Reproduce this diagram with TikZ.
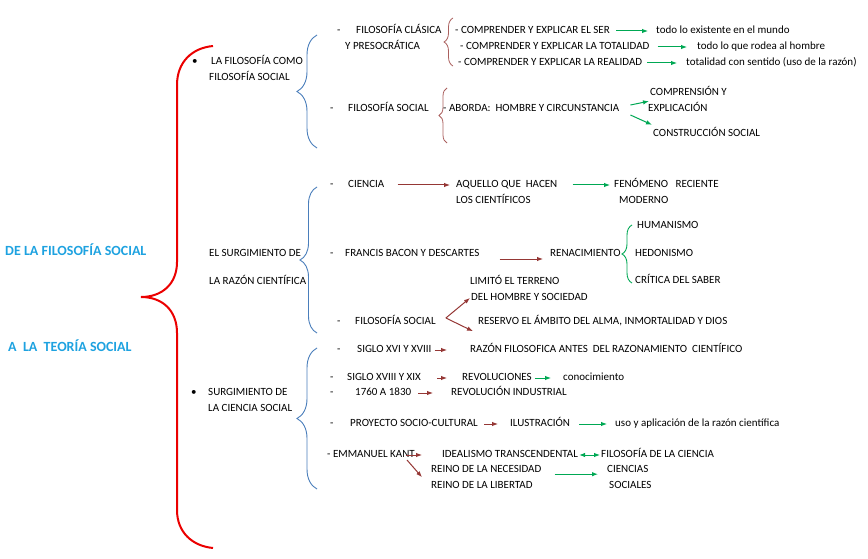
\documentclass[tikz,border=0pt]{standalone}
\usepackage{fontspec}
\setmainfont{Carlito}
\usetikzlibrary{arrows,arrows.meta,decorations.pathreplacing,calc}
\definecolor{titleblue}{RGB}{30,162,224}
\definecolor{braceblue}{RGB}{74,126,187}
\definecolor{bracered}{RGB}{235,0,0}
\definecolor{arrowbrown}{RGB}{149,55,53}
\definecolor{arrowgreen}{RGB}{0,168,84}
\tikzset{
    txt/.style = {anchor=west, inner sep=1pt, text height=7.5pt, text depth=2.5pt,
        font=\fontsize{11}{13}\selectfont},
    title/.style = {txt, text=titleblue, font=\fontsize{14}{16}\selectfont\bfseries},
    rarrow/.style = {draw=arrowbrown, line width=1pt, ->},
    garrow/.style = {draw=arrowgreen, line width=1pt, ->},
    redbrace/.style = {draw=bracered, line width=2pt},
    bluebrace/.style = {draw=braceblue, line width=0.9pt, decorate, decoration={brace, amplitude=#1}},
    brownbrace/.style = {draw=arrowbrown!80, line width=0.8pt, decorate, decoration={brace, amplitude=#1}},
    greenbrace/.style = {draw=arrowgreen, line width=0.9pt, decorate, decoration={brace, amplitude=#1}}
}
\begin{document}
\begin{tikzpicture}[x=1pt, y=-1pt, >={Latex[length=6pt,width=4.5pt]}]
        \useasboundingbox (0,0) rectangle (868,559);
        % main brace
        \draw [redbrace] (213,46) .. controls (192,48) and (177,62) .. (177,85) -- (177,262)
            .. controls (177,284) and (162,297) .. (141,297) .. controls (162,297) and (177,310) .. (177,333)
            -- (177,510) .. controls (177,532) and (192,546) .. (213,548);
        \node [title] (tita) at (4,253) {DE LA FILOSOFÍA SOCIAL};
        \node [title] (titb) at (7,349) {A\ \ LA\ \ TEORÍA SOCIAL};
        % la filosofia como filosofia social
        \node [txt] (bul1) at (191,62) {\textbullet};
        \node [txt] (lafil) at (210,62) {LA FILOSOFÍA COMO};
        \node [txt] (lafilb) at (208,78) {FILOSOFÍA SOCIAL};
        \draw [bluebrace=20] (317,148) -- (317,35);
        \node [txt] (dclas) at (336,31) {-};
        \node [txt] (clas) at (355,31) {FILOSOFÍA CLÁSICA};
        \node [txt] (clasb) at (344,47) {Y PRESOCRÁTICA};
        \draw [brownbrace=9] (453,66) -- (453,18);
        \node [txt] (ser) at (454,31) {- COMPRENDER Y EXPLICAR EL SER};
        \node [txt] (serres) at (655,31) {todo lo existente en el mundo};
        \node [txt] (tot) at (459,47) {- COMPRENDER Y EXPLICAR LA TOTALIDAD};
        \node [txt] (totres) at (696,47) {todo lo que rodea al hombre};
        \node [txt] (rea) at (457,63) {- COMPRENDER Y EXPLICAR LA REALIDAD};
        \node [txt] (reares) at (685,63) {totalidad con sentido (uso de la razón)};
        \node [txt] (dsoc) at (329,109) {-};
        \node [txt] (filsoc) at (347,109) {FILOSOFÍA SOCIAL};
        \draw [brownbrace=8] (447,143) -- (447,88);
        \node [txt] (aborda) at (442,109) {- ABORDA:\ \ HOMBRE Y CIRCUNSTANCIA};
        \node [txt] (comp) at (649,93) {COMPRENSIÓN Y};
        \node [txt] (compb) at (647,109) {EXPLICACIÓN};
        \node [txt] (constr) at (652,134) {CONSTRUCCIÓN SOCIAL};
        \draw [garrow, shorten <=5pt, shorten >=7pt] (ser) -- (serres);
        \draw [garrow, shorten <=7pt, shorten >=9pt] (tot) -- (totres);
        \draw [garrow, shorten <=4pt, shorten >=8pt] (rea) -- (reares);
        \draw [garrow] ([xshift=10pt,yshift=4pt]aborda.east) -- ([yshift=-2pt]comp.south west);
        \draw [garrow] ([xshift=10pt,yshift=-6pt]aborda.east) -- ([yshift=3pt]constr.north west);
        % el surgimiento de la razon cientifica
        \node [txt] (surg) at (208,254) {EL SURGIMIENTO DE};
        \node [txt] (surgb) at (208,282) {LA RAZÓN CIENTÍFICA};
        \draw [bluebrace=17] (317,333) -- (317,187);
        \node [txt] (dcien) at (329,185) {-};
        \node [txt] (cien) at (347,185) {CIENCIA};
        \node [txt] (aquello) at (455,185) {AQUELLO QUE\ \ HACEN};
        \node [txt] (aquellob) at (455,201) {LOS CIENTÍFICOS};
        \node [txt] (feno) at (613,185) {FENÓMENO\ \ \ RECIENTE};
        \node [txt] (fenob) at (618,201) {MODERNO};
        \node [txt] (dbacon) at (329,254) {-};
        \node [txt] (bacon) at (344,254) {FRANCIS BACON Y DESCARTES};
        \node [txt] (renac) at (549,254) {RENACIMIENTO};
        \draw [greenbrace=10] (632,283) -- (632,225);
        \node [txt] (hum) at (636,226) {HUMANISMO};
        \node [txt] (hed) at (634,254) {HEDONISMO};
        \node [txt] (crit) at (634,281) {CRÍTICA DEL SABER};
        \node [txt] (limito) at (469,282) {LIMITÓ EL TERRENO};
        \node [txt] (limitob) at (470,298) {DEL HOMBRE Y SOCIEDAD};
        \node [txt] (dfsoc) at (336,322) {-};
        \node [txt] (fsoc) at (354,322) {FILOSOFÍA SOCIAL};
        \node [txt] (reservo) at (477,322) {RESERVO EL ÁMBITO DEL ALMA, INMORTALIDAD Y DIOS};
        \draw [rarrow, shorten <=12pt, shorten >=5pt] (cien) -- (aquello);
        \draw [garrow, shorten <=14pt, shorten >=3pt] (aquello) -- (feno);
        \draw [rarrow, shorten <=19pt, shorten >=6pt] ([yshift=-5pt]bacon.east) -- ([yshift=-5pt]renac.west);
        \draw [rarrow] ([xshift=9pt,yshift=4pt]fsoc.east) -- (limitob.west);
        \draw [rarrow] ([xshift=9pt,yshift=4pt]fsoc.east) -- ([xshift=-4pt,yshift=-3pt]reservo.south west);
        % surgimiento de la ciencia social
        \node [txt] (bul3) at (190,393) {\textbullet};
        \node [txt] (surgc) at (207,393) {SURGIMIENTO DE};
        \node [txt] (surgcb) at (207,409) {LA CIENCIA SOCIAL};
        \draw [bluebrace=20] (317,489) -- (317,348);
        \node [txt] (ds16) at (336,350) {-};
        \node [txt] (s16) at (356,350) {SIGLO XVI Y XVIII};
        \node [txt] (razfil) at (469,350) {RAZÓN FILOSOFICA ANTES\ \ DEL RAZONAMIENTO\ \ CIENTÍFICO};
        \node [txt] (ds18) at (329,378) {-};
        \node [txt] (s18) at (346,378) {SIGLO XVIII Y XIX};
        \node [txt] (revs) at (461,378) {REVOLUCIONES};
        \node [txt] (conoc) at (562,378) {conocimiento};
        \node [txt] (dy1760) at (329,393) {-};
        \node [txt] (y1760) at (354,393) {1760 A 1830};
        \node [txt] (revind) at (450,393) {REVOLUCIÓN INDUSTRIAL};
        \node [txt] (dproy) at (329,424) {-};
        \node [txt] (proy) at (349,424) {PROYECTO SOCIO-CULTURAL};
        \node [txt] (ilus) at (509,424) {ILUSTRACIÓN};
        \node [txt] (uso) at (614,424) {uso y aplicación de la razón científica};
        \node [txt] (kant) at (326,455) {- EMMANUEL KANT};
        \node [txt] (ideal) at (441,455) {IDEALISMO TRANSCENDENTAL};
        \node [txt] (filcien) at (600,455) {FILOSOFÍA DE LA CIENCIA};
        \node [txt] (nec) at (430,470) {REINO DE LA NECESIDAD};
        \node [txt] (lib) at (430,486) {REINO DE LA LIBERTAD};
        \node [txt] (cienc) at (606,470) {CIENCIAS};
        \node [txt] (socs) at (608,486) {SOCIALES};
        \draw [rarrow, shorten <=2pt, shorten >=22pt] (s16) -- (razfil);
        \draw [rarrow, shorten <=15pt, shorten >=14pt] (s18) -- (revs);
        \draw [garrow, shorten <=2pt, shorten >=11pt] (revs) -- (conoc);
        \draw [rarrow, shorten <=6pt, shorten >=17pt] (y1760) -- (revind);
        \draw [rarrow, shorten <=5pt, shorten >=11pt] (proy) -- (ilus);
        \draw [garrow, shorten <=8pt, shorten >=7pt] (ilus) -- (uso);
        \draw [rarrow] ([xshift=-10pt]kant.east) -- ([xshift=-19pt]ideal.west);
        \draw [garrow, <->] (ideal) -- (filcien);
        \draw [rarrow] ([xshift=-9pt,yshift=-5pt]kant.east) -- ([xshift=-8pt,yshift=-1pt]nec.south west);
        \draw [garrow, shorten <=12pt, shorten >=8pt] ([yshift=2pt]nec.south east) -- ([yshift=2pt]cienc.south west);
\end{tikzpicture}
\end{document}
